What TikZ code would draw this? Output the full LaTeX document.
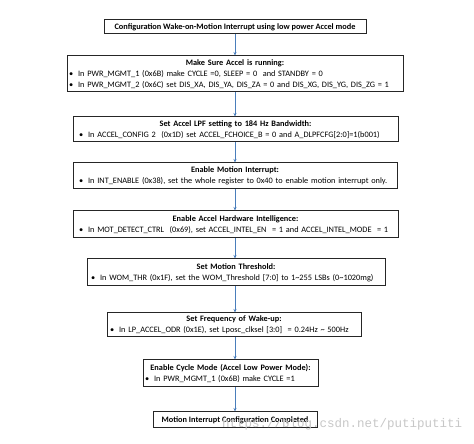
\documentclass[tikz,border=0pt]{standalone}
\usepackage{fontspec}
\setmainfont{Carlito}
\newfontfamily\wmfont{Liberation Mono}
\usetikzlibrary{arrows.meta}
\definecolor{arrblue}{HTML}{4A7EBB}
\newcommand{\ttl}[1]{{\centering\bfseries #1\par}}
\newcommand{\itm}[1]{\noindent\textbullet\hspace{5pt}#1\par}
\tikzset{
  box/.style={draw=black!85, line width=1pt, fill=white, inner xsep=2pt, inner ysep=0.5pt,
              font=\fontsize{8.3}{10.8}\selectfont, align=left},
  arr/.style={draw=arrblue, line width=0.6pt, -{Stealth[length=3.5pt,width=3pt]}},
}
\begin{document}
\begin{tikzpicture}[x=1pt,y=1pt]
\useasboundingbox (0,0) rectangle (474,444);
\node[box, minimum width=262, minimum height=14, align=center] (b1) at (235,417) {\bfseries Configuration Wake-on-Motion Interrupt using low power Accel mode};
\node[box, minimum width=336, minimum height=36, text width=332] (b2) at (235,370)
  {\ttl{Make Sure Accel is running:}
   \itm{In PWR\_MGMT\_1 (0x6B) make CYCLE =0, SLEEP = 0\ \ and STANDBY = 0}
   \itm{In PWR\_MGMT\_2 (0x6C) set DIS\_XA, DIS\_YA, DIS\_ZA = 0 and DIS\_XG, DIS\_YG, DIS\_ZG = 1}};
\node[box, minimum width=325, minimum height=25, text width=313] (b3) at (235.5,314.5)
  {\ttl{Set Accel LPF setting to 184 Hz Bandwidth:}
   \itm{In ACCEL\_CONFIG 2\ \ (0x1D) set ACCEL\_FCHOICE\_B = 0 and A\_DLPFCFG[2:0]=1(b001)}};
\node[box, minimum width=324, minimum height=26, text width=312] (b4) at (235,268)
  {\ttl{Enable Motion Interrupt:}
   \itm{In INT\_ENABLE (0x38), set the whole register to 0x40 to enable motion interrupt only.}};
\node[box, minimum width=325, minimum height=27, text width=313] (b5) at (235.5,219.5)
  {\ttl{Enable Accel Hardware Intelligence:}
   \itm{In MOT\_DETECT\_CTRL\ \ (0x69), set ACCEL\_INTEL\_EN\ \ = 1 and ACCEL\_INTEL\_MODE\ \ = 1}};
\node[box, minimum width=298, minimum height=27, text width=290] (b6) at (236,171.5)
  {\ttl{Set Motion Threshold:}
   \itm{In WOM\_THR (0x1F), set the WOM\_Threshold [7:0] to 1\textasciitilde255 LSBs (0\textasciitilde1020mg)}};
\node[box, minimum width=254, minimum height=24, text width=248] (b7) at (234,119)
  {\ttl{Set Frequency of Wake-up:}
   \itm{In LP\_ACCEL\_ODR (0x1E), set Lposc\_clksel [3:0]\ \ = 0.24Hz \textasciitilde\ 500Hz}};
\node[box, minimum width=175, minimum height=27, text width=171] (b8) at (230.5,70.5)
  {\ttl{Enable Cycle Mode (Accel Low Power Mode):}
   \itm{In PWR\_MGMT\_1 (0x6B) make CYCLE =1}};
\node[box, minimum width=164, minimum height=16, align=center] (b9) at (235,24) {\bfseries Motion Interrupt Configuration Completed};
\draw[arr] (b1.south) -- (b2.north -| b1.south);
\draw[arr] (b2.south -| b1.south) -- (b3.north -| b1.south);
\draw[arr] (b3.south -| b1.south) -- (b4.north -| b1.south);
\draw[arr] (b4.south -| b1.south) -- (b5.north -| b1.south);
\draw[arr] (b5.south -| b1.south) -- (b6.north -| b1.south);
\draw[arr] (b6.south -| b1.south) -- (b7.north -| b1.south);
\draw[arr] (b7.south -| b1.south) -- (b8.north -| b1.south);
\draw[arr] (b8.south -| b1.south) -- (b9.north -| b1.south);
\node[text=black!22, font=\wmfont\fontsize{12.5}{14}\selectfont, anchor=west, inner sep=0] (wm) at (222,20) {https://blog.csdn.net/putiputiti};
\end{tikzpicture}
\end{document}
